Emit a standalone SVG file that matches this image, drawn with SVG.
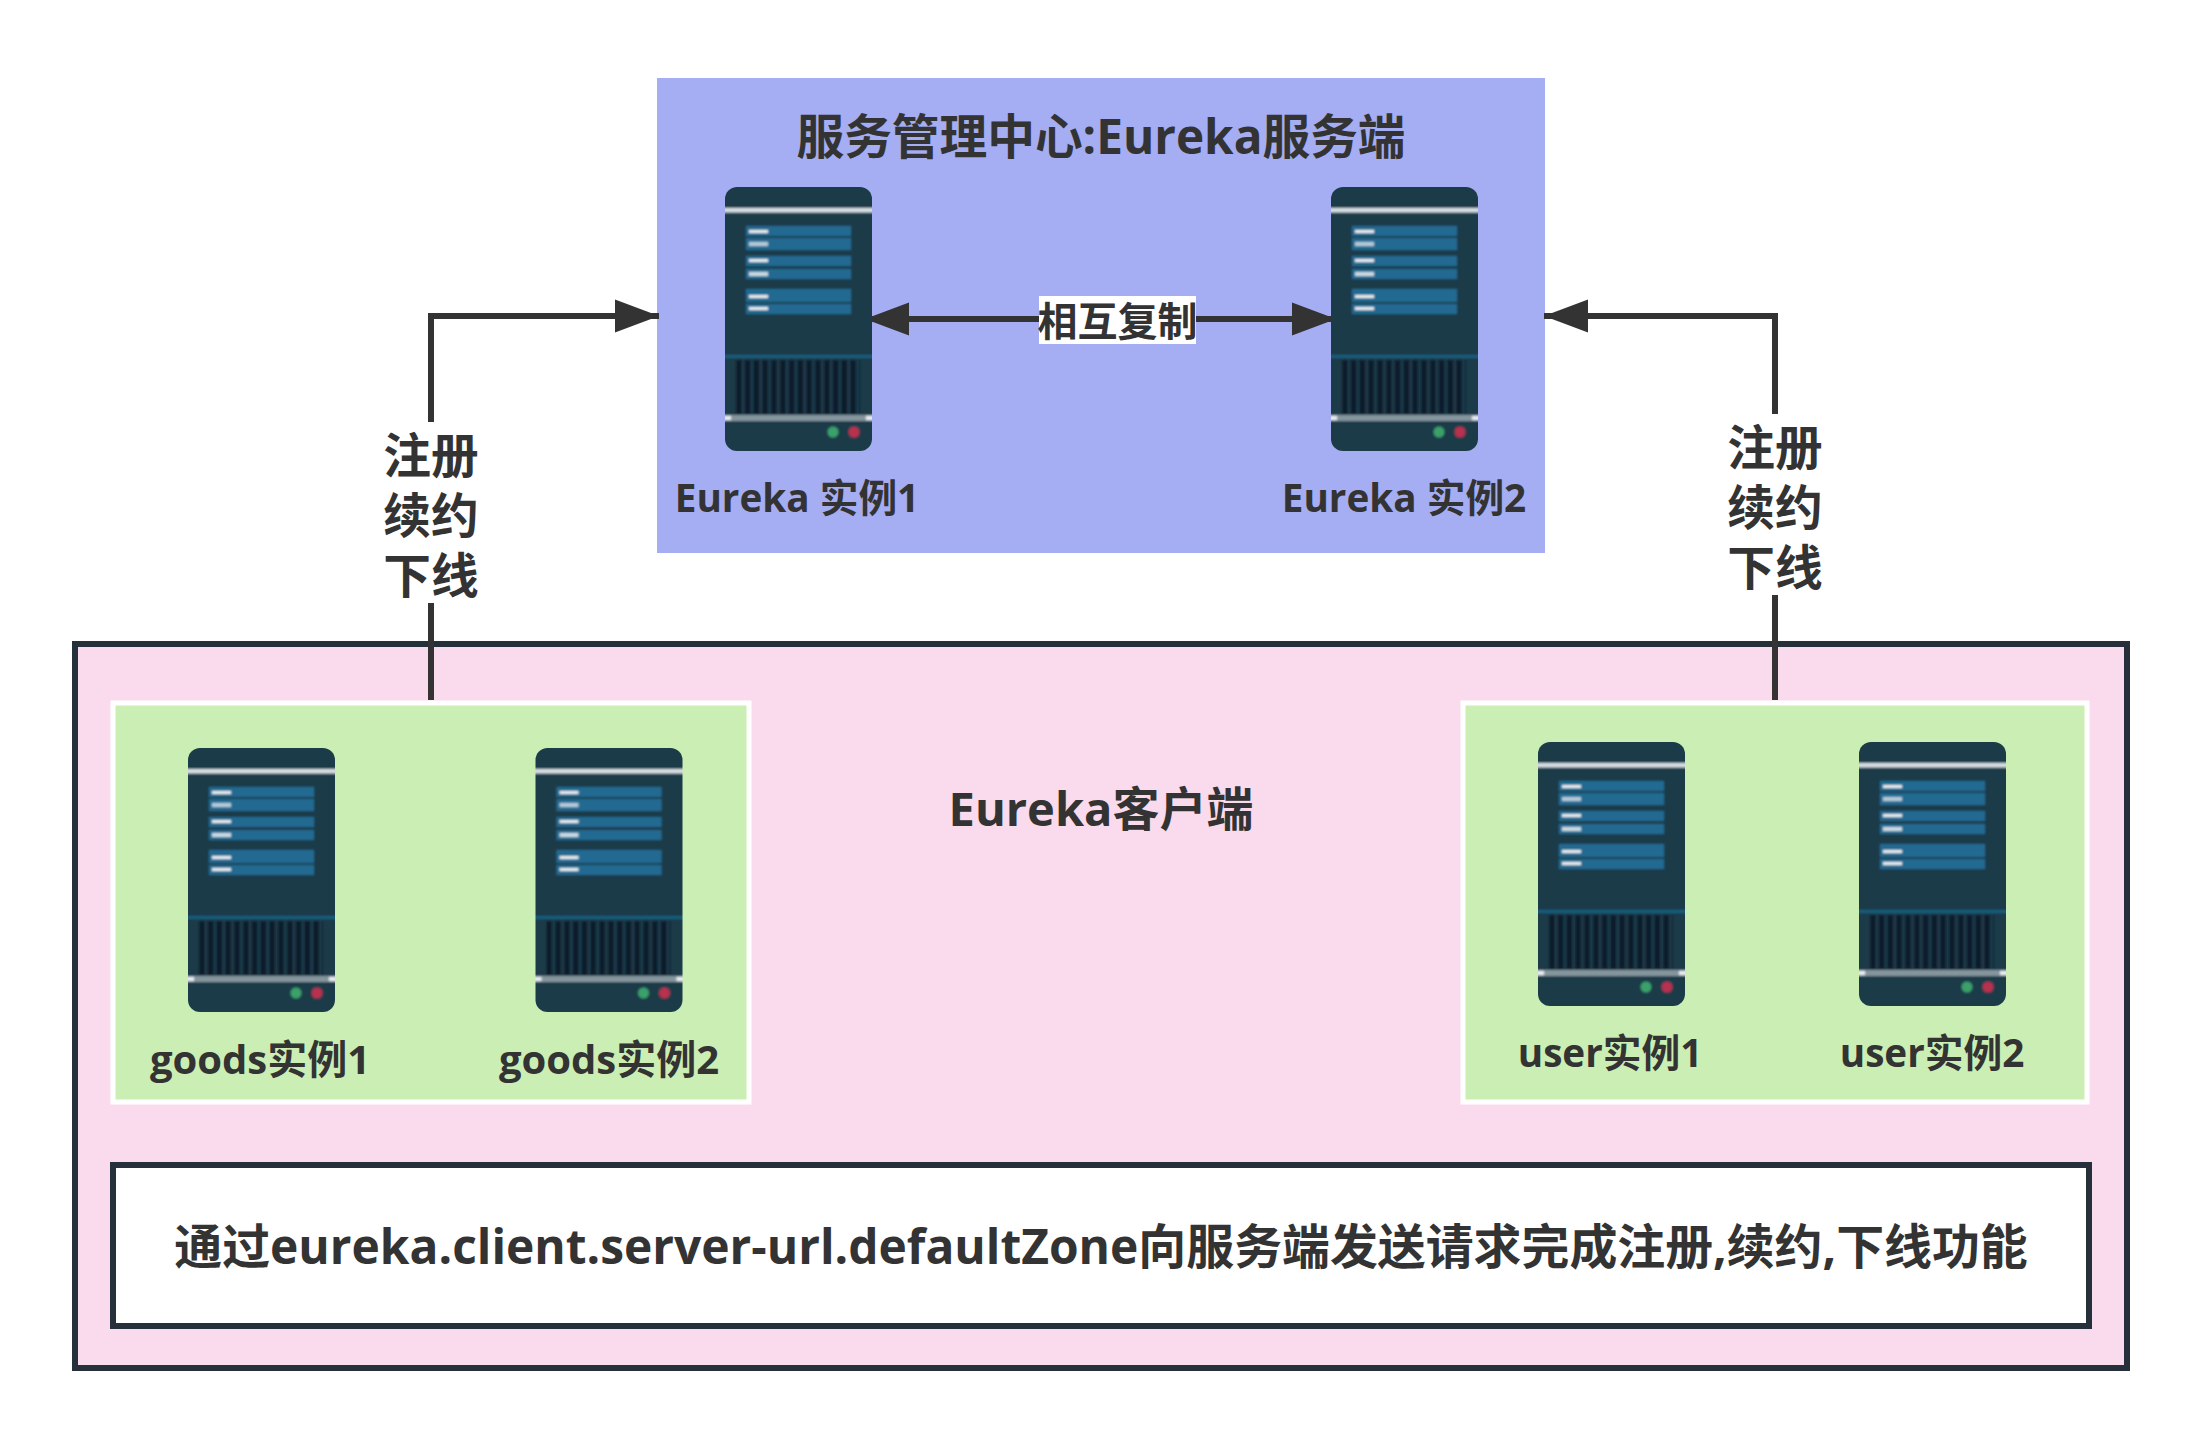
<svg xmlns="http://www.w3.org/2000/svg" xmlns:xlink="http://www.w3.org/1999/xlink" width="2202" height="1444" viewBox="0 0 2202 1444">
<style>
text{font-family:"Open Sans","Noto Sans CJK SC",sans-serif;font-weight:700;fill:#333;text-anchor:middle;dominant-baseline:central}
.t48{font-size:47.7px}.t47{font-size:47px}.t39{font-size:38.7px}.t40{font-size:40px}.note{font-size:47.9px}
.line{fill:none;stroke:#333;stroke-width:6}
.green{fill:#cbeeb4;stroke:#fff;stroke-width:5}
.bg{fill:#fff}
</style>
<defs>
<filter id="soft" x="-5%" y="-5%" width="110%" height="110%"><feGaussianBlur stdDeviation="1"/></filter>
<marker id="arrow" markerUnits="userSpaceOnUse" markerWidth="46" markerHeight="34" refX="44" refY="17" orient="auto-start-reverse"><path d="M0 0.5L44 17L0 33.5Z" fill="#333"/></marker>
<clipPath id="srv"><rect width="147" height="264" rx="12"/></clipPath>
<g id="server">
<g clip-path="url(#srv)">
<g filter="url(#soft)">
<rect x="-3" y="-3" width="153" height="270" fill="#1f3a4a"/>
<rect x="-3" y="21" width="153" height="4.5" fill="#d5dfe3"/>
<g fill="#226a92">
<rect x="21" y="39" width="105" height="10"/><rect x="21" y="51" width="105" height="12"/>
<rect x="21" y="69" width="105" height="10"/><rect x="21" y="82" width="105" height="10"/>
<rect x="21" y="102" width="105" height="13"/><rect x="21" y="117" width="105" height="10"/>
</g>
<g fill="#e6eef2">
<rect x="24" y="43" width="19" height="3"/><rect x="24" y="55" width="19" height="4" opacity=".75"/>
<rect x="24" y="72" width="19" height="3"/><rect x="24" y="85" width="19" height="4" opacity=".85"/>
<rect x="24" y="108" width="19" height="3"/><rect x="24" y="120" width="19" height="3"/>
</g>
<rect x="-3" y="168" width="153" height="3" fill="#135f7e"/>
<path d="M11 200H135" stroke="#0a1a2c" stroke-width="54" stroke-dasharray="5.500 3.300" fill="none"/>
<rect x="-3" y="228" width="153" height="6" fill="#84959e"/>
<rect x="-3" y="229" width="9" height="4" fill="#e6eef2"/><rect x="141" y="229" width="9" height="4" fill="#e6eef2"/>
<circle cx="108" cy="245" r="5.500" fill="#3aa06a"/><circle cx="129" cy="245" r="5.500" fill="#b8334f"/>
</g>
</g>
</g>
</defs>
<rect width="2202" height="1444" fill="#fff"/>
<g id="eureka-server">
<rect x="657" y="78" width="888" height="475" fill="#a5adf3"/>
<text x="1101" y="135.500" class="t48">服务管理中心:Eureka服务端</text>
</g>
<g id="eureka-client">
<rect x="75" y="644" width="2052" height="724" fill="#f9dbed" stroke="#25303b" stroke-width="6"/>
<text x="1101" y="807.500" class="t47">Eureka客户端</text>
</g>
<g id="connectors">
<path class="line" d="M431 700V316H659" marker-end="url(#arrow)"/>
<path class="line" d="M1775 700V316H1544" marker-end="url(#arrow)"/>
<path class="line" d="M865 319H1336" marker-start="url(#arrow)" marker-end="url(#arrow)"/>
</g>
<g id="eureka-1"><use xlink:href="#server" href="#server" x="725" y="187"/><text x="797" y="497" class="t39">Eureka 实例1</text></g>
<g id="eureka-2"><use xlink:href="#server" href="#server" x="1331" y="187"/><text x="1404" y="497" class="t39">Eureka 实例2</text></g>
<g id="goods">
<rect class="green" x="113" y="703" width="636" height="399"/>
<use xlink:href="#server" href="#server" x="188" y="748"/><text x="260" y="1058" class="t40">goods实例1</text>
<use xlink:href="#server" href="#server" x="535.500" y="748"/><text x="609" y="1058" class="t40">goods实例2</text>
</g>
<g id="user">
<rect class="green" x="1463" y="703" width="624" height="399"/>
<use xlink:href="#server" href="#server" x="1538" y="742"/><text x="1610" y="1052" class="t39">user实例1</text>
<use xlink:href="#server" href="#server" x="1859" y="742"/><text x="1932" y="1052" class="t39">user实例2</text>
</g>
<g id="note">
<rect x="113" y="1165" width="1976" height="161" fill="#fff" stroke="#25303b" stroke-width="6"/>
<text x="1101" y="1245" class="note">通过eureka.client.server-url.defaultZone向服务端发送请求完成注册,续约,下线功能</text>
</g>
<g id="label-left">
<rect class="bg" x="380" y="422" width="102" height="181"/>
<text x="431" y="454.500" class="t48">注册</text><text x="431" y="514" class="t48">续约</text><text x="431" y="574.500" class="t48">下线</text>
</g>
<g id="label-right">
<rect class="bg" x="1724" y="414" width="102" height="181"/>
<text x="1775" y="446.500" class="t48">注册</text><text x="1775" y="506" class="t48">续约</text><text x="1775" y="566.500" class="t48">下线</text>
</g>
<g id="label-mid">
<rect class="bg" x="1039" y="296" width="157" height="48"/>
<text x="1117.500" y="320" class="t40">相互复制</text>
</g>
</svg>
